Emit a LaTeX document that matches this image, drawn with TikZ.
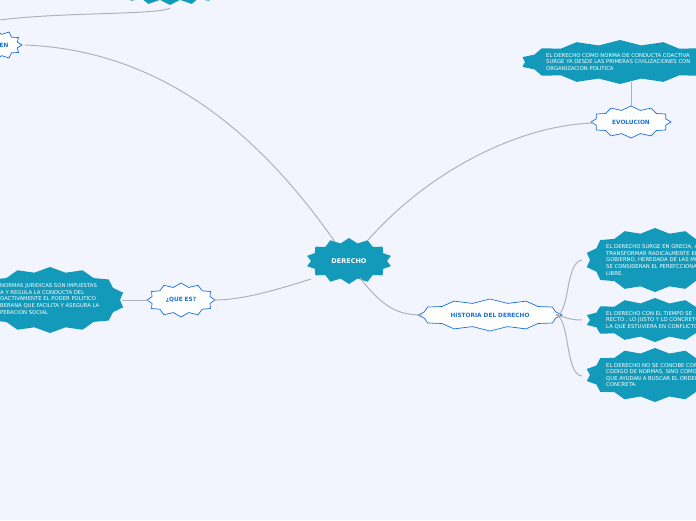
\documentclass[tikz,border=0pt]{standalone}
\usepackage{fontspec}
\setmainfont{DejaVu Sans}
\usetikzlibrary{shapes.symbols}
\definecolor{bg}{HTML}{F2F5FE}
\definecolor{teal}{HTML}{1399B9}
\definecolor{blu}{HTML}{1A6FD8}
\definecolor{lnk}{HTML}{B0B2BA}
\tikzset{
 topic/.style={starburst,starburst points=14,starburst point height=5pt,random starburst=0,fill=teal,draw=none,inner sep=0pt},
 sub/.style={starburst,starburst points=12,starburst point height=4pt,random starburst=0,fill=white,draw=blu,line width=0.7pt,inner sep=1pt,font=\bfseries\fontsize{5.8}{6}\selectfont,text=blu},
 txt/.style={align=left,anchor=west,text=white,font=\fontsize{5.3}{6.6}\selectfont,inner sep=0pt},
 link/.style={draw=lnk,line width=1pt},
}
\begin{document}
\begin{tikzpicture}[x=1pt,y=-1pt]
\fill[bg] (0,0) rectangle (696,520);
\useasboundingbox (0,0) rectangle (696,520);
\node[topic,minimum width=86pt,minimum height=46pt] (der) at (349,261) {};
\node[text=white,font=\bfseries\fontsize{6.5}{7}\selectfont] at (349,261) {DERECHO};
\node[topic,minimum width=100pt,minimum height=22pt] (top) at (170,-6) {};
\node[sub,minimum width=52pt,minimum height=30pt] (ori) at (-4,45) {ORIGEN};
\node[sub,minimum width=80pt,minimum height=32pt] (evo) at (631,122) {EVOLUCION};
\node[topic,minimum width=200pt,minimum height=44pt] (evt) at (620,62) {};
\node[txt] at (546,62) {EL DERECHO COMO NORMA DE CONDUCTA COACTIVA\\SURGE YA DESDE LAS PRIMERAS CIVILIZACIONES CON\\ORGANIZACION POLITICA};
\node[sub,minimum width=68pt,minimum height=34pt] (que) at (181,300) {¿QUE ES?};
\node[topic,minimum width=150pt,minimum height=66pt] (qt) at (50,300) {};
\node[txt] at (0,299) {NORMAS JURIDICAS SON IMPUESTAS\\A Y REGULA LA CONDUCTA DEL\\OACTIVAMENTE EL PODER POLITICO\\BERANA QUE FACILITA Y ASEGURA LA\\PERACION SOCIAL};
\node[sub,minimum width=144pt,minimum height=32pt] (his) at (490,315) {HISTORIA DEL DERECHO};
\node[topic,minimum width=140pt,minimum height=64pt] (h1) at (655,260) {};
\node[txt] at (606,260) {EL DERECHO SURGE EN GRECIA, AL\\TRANSFORMAR RADICALMENTE EL\\GOBIERNO, HEREDADA DE LAS MONARQUIAS\\SE CONSIDERAN EL PEREFCCIONAMIENTO\\LIBRE.};
\node[topic,minimum width=140pt,minimum height=44pt] (h2) at (655,320) {};
\node[txt] at (606,320) {EL DERECHO CON EL TIEMPO SE\\RECTO , LO JUSTO Y LO CONCRETO\\LA QUE ESTUVIERA EN CONFLICTO};
\node[topic,minimum width=140pt,minimum height=54pt] (h3) at (655,375) {};
\node[txt] at (606,375) {EL DERECHO NO SE CONCIBE COMO\\CODIGO DE NORMAS, SINO COMO\\QUE AYUDAN A BUSCAR EL ORDEN\\CONCRETA.};
\coordinate (oriout) at (0,20);
\draw[link] (335,242) .. controls (250,120) and (150,50) .. (25,45);
\draw[link] (368,240) .. controls (430,170) and (520,125) .. (594,123);
\draw[link] (311,279) .. controls (270,292) and (240,300) .. (214,300);
\draw[link] (360,278) .. controls (385,310) and (400,315) .. (423,315);
\draw[link] (oriout) .. controls (60,12) and (160,15) .. (170,8);
\draw[link] (631,106) -- (631,82);
\draw[link] (148,300) -- (122,300);
\draw[link] (556,315) .. controls (570,315) and (565,262) .. (582,260);
\draw[link] (556,315) .. controls (568,318) and (570,320) .. (582,320);
\draw[link] (556,315) .. controls (570,318) and (565,375) .. (582,376);
\end{tikzpicture}
\end{document}
